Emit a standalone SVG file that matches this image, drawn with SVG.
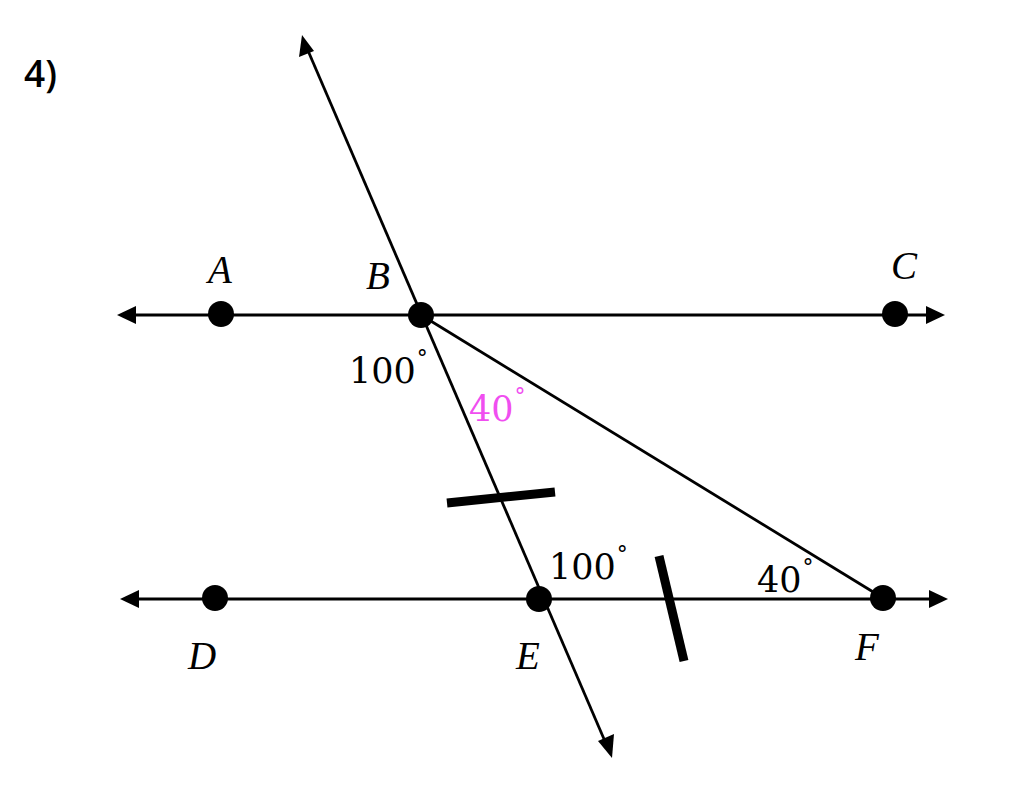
<svg xmlns="http://www.w3.org/2000/svg" width="1024" height="796" viewBox="0 0 1024 796">
<style>
.ln{stroke:#000;stroke-width:2.8;fill:none}
.tk{stroke:#000;stroke-width:9;fill:none}
.pt{fill:#000}
.lbl{font-family:"Liberation Serif",serif;font-style:italic;font-size:39px;fill:#000}
.ang{font-family:"DejaVu Serif",serif;font-size:35px;fill:#000}
.deg{font-size:22px}
.mag{fill:#f04ef0}
.num{font-family:"Open Sans",sans-serif;font-weight:600;font-size:37px;fill:#000}
</style>
<rect width="1024" height="796" fill="#fff"/>
<text class="num" x="24" y="87">4)</text>
<g id="connectors">
<line class="ln" x1="130" y1="315" x2="932" y2="315"/>
<line class="ln" x1="133" y1="599" x2="935" y2="599"/>
<line class="ln" x1="306" y1="46" x2="607" y2="746"/>
<line class="ln" x1="421" y1="315" x2="883" y2="598"/>
<path d="M117,315 L136,306 L136,324 z" class="pt"/>
<path d="M945,315 L926,306 L926,324 z" class="pt"/>
<path d="M120,599 L139,590 L139,608 z" class="pt"/>
<path d="M948,599 L929,590 L929,608 z" class="pt"/>
<path d="M302,35 L299,57 L314,51 z" class="pt"/>
<path d="M612,758 L598,741 L614,734 z" class="pt"/>
<line class="tk" x1="447" y1="503" x2="555" y2="492"/>
<line class="tk" x1="659" y1="556" x2="684" y2="661"/>
</g>
<g id="A"><circle class="pt" cx="221" cy="314" r="13"/><text class="lbl" x="208" y="283">A</text></g>
<g id="B"><circle class="pt" cx="421" cy="315" r="13"/><text class="lbl" x="366" y="289">B</text></g>
<g id="C"><circle class="pt" cx="895" cy="314" r="13"/><text class="lbl" x="891" y="279">C</text></g>
<g id="D"><circle class="pt" cx="215" cy="598" r="13"/><text class="lbl" x="188" y="669">D</text></g>
<g id="E"><circle class="pt" cx="539" cy="599" r="13"/><text class="lbl" x="516" y="669">E</text></g>
<g id="F"><circle class="pt" cx="883" cy="598" r="13"/><text class="lbl" x="855" y="660">F</text></g>
<g id="angles">
<text class="ang" x="349" y="383">100<tspan class="deg" dy="-17" dx="1">°</tspan></text>
<text class="ang mag" x="469" y="421">40<tspan class="deg" dy="-17" dx="1">°</tspan></text>
<text class="ang" x="549" y="579">100<tspan class="deg" dy="-17" dx="1">°</tspan></text>
<text class="ang" x="757" y="592">40<tspan class="deg" dy="-17" dx="1">°</tspan></text>
</g>
</svg>
